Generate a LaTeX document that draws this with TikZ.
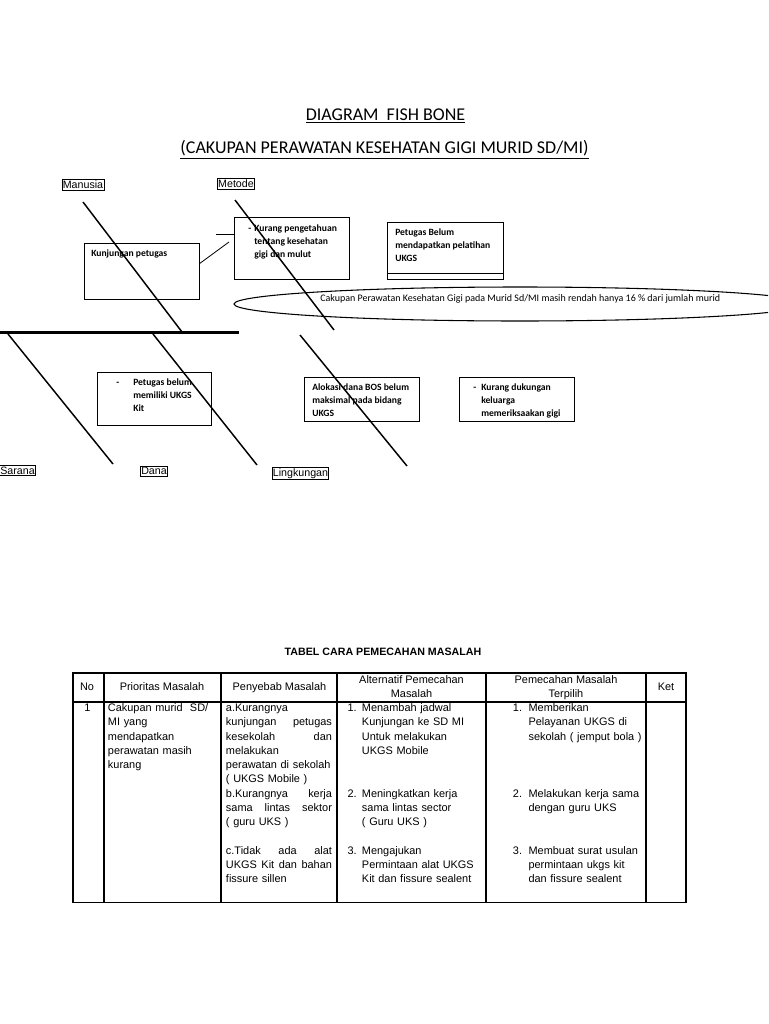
\documentclass[tikz,border=0pt]{standalone}
\usepackage{fontspec}
\setmainfont{Liberation Sans}
\newfontfamily\calfont{Carlito}
\newcommand\jl[1]{\leavevmode\hbox to 79.5pt{#1}}
\begin{document}
\begin{tikzpicture}[x=0.75pt,y=-0.75pt,
  bone/.style={line width=1.1pt},
  boxr/.style={draw,line width=0.75pt},
  lbl/.style={draw,line width=0.6pt,font=\fontsize{8}{9.6}\selectfont,inner xsep=0.6pt,inner ysep=1pt},
  btxt/.style={font=\calfont\bfseries\fontsize{7.2}{10}\selectfont,anchor=base west,inner sep=0pt,align=left},
  tcell/.style={font=\fontsize{8.2}{10.69}\selectfont,anchor=base west,inner sep=0pt,align=left},
  thead/.style={font=\fontsize{8.2}{10.5}\selectfont,anchor=base,inner sep=0pt,align=center},
  tline/.style={line width=0.9pt}]
\fill[white] (0,0) rectangle (768,1024);
\clip (0,0) rectangle (768,1024);
% titles
\node[font=\calfont\fontsize{13.5}{15}\selectfont,anchor=base,inner sep=0pt] (t1) at (385.5,120.5) {\underline{DIAGRAM\ \ FISH BONE}};
\node[font=\calfont\fontsize{13.5}{15}\selectfont,anchor=base,inner sep=0pt] (t2) at (384.5,153.5) {\underline{(CAKUPAN PERAWATAN KESEHATAN GIGI MURID SD/MI)}};
% labels
\node[lbl] (manusia) at (83,185) {Manusia};
\node[lbl] (metode) at (236,184) {Metode};
\node[lbl] (sarana) at (17.5,470.5) {Sarana};
\node[lbl] (dana) at (154,471) {Dana};
\node[lbl] (lingk) at (300.5,473.5) {Lingkungan};
% bones
\coordinate (m1) at (83,202); \coordinate (m2) at (182,332);
\coordinate (k1) at (235,200); \coordinate (k2) at (334,330);
\coordinate (sp1) at (0,332.5); \coordinate (sp2) at (239,332.5);
\coordinate (s1) at (8,334); \coordinate (s2) at (113,464);
\coordinate (d1) at (153,334); \coordinate (d2) at (257,465);
\coordinate (l1) at (300,335); \coordinate (l2) at (407,466);
\draw[line width=1.6pt] (sp1) -- (sp2);
\draw[bone] (m1) -- (m2);
\draw[bone] (k1) -- (k2);
\draw[bone] (s1) -- (s2);
\draw[bone] (d1) -- (d2);
\draw[bone] (l1) -- (l2);
% ellipse
\draw[line width=0.8pt] (520,304) ellipse [x radius=286, y radius=17];
\node[font=\calfont\fontsize{7.5}{9}\selectfont,anchor=base west,inner sep=0pt] (eff) at (320,301) {Cakupan Perawatan Kesehatan Gigi pada Murid Sd/MI masih rendah hanya 16 \% dari jumlah murid};
% boxes
\draw[boxr] (84,243) rectangle (199,299);
\node[btxt] (kunj) at (91,256) {Kunjungan petugas};
\draw[boxr] (234,217) rectangle (349,279);
\node[btxt] (kb) at (248,231) {-};
\node[btxt] (kurang) at (254,257.7) {Kurang pengetahuan\\tentang kesehatan\\gigi dan mulut};
\coordinate (c1) at (199,264); \coordinate (c2) at (229,242);
\coordinate (c3) at (216,234); \coordinate (c4) at (234,234);
\draw[line width=0.6pt] (c1) -- (c2);
\draw[line width=0.6pt] (c3) -- (c4);
\draw[boxr] (387,222) rectangle (503,279);
\draw[boxr] (387,273) -- (503,273);
\node[btxt] (pelat) at (395,261.7) {Petugas Belum\\mendapatkan pelatihan\\UKGS};
\draw[boxr] (97,372) rectangle (211,425);
\node[btxt] (pbb) at (116,385) {-};
\node[btxt] (petbel) at (133,411.7) {Petugas belum\\memiliki UKGS\\Kit};
\draw[boxr] (304,377) rectangle (419,421);
\node[btxt] (alok) at (312,416.7) {Alokasi dana BOS belum\\maksimal pada bidang\\UKGS};
\draw[boxr] (459,377) rectangle (574,421);
\node[btxt] (dkb) at (473,390) {-};
\node[btxt] (dukung) at (481,416.7) {Kurang dukungan\\keluarga\\memeriksaakan gigi};
% table
\node[font=\bfseries\fontsize{8}{9.6}\selectfont,anchor=base,inner sep=0pt] (ttl) at (383,655) {TABEL CARA PEMECAHAN MASALAH};
\draw[tline] (73,673) rectangle (686,902.5);
\draw[tline] (73,702) -- (686,702);
\draw[tline] (104,673) -- (104,902.5);
\draw[line width=1.3pt] (221,673) -- (221,902.5);
\draw[line width=1.3pt] (337,673) -- (337,902.5);
\draw[tline] (486,673) -- (486,902.5);
\draw[tline] (646,673) -- (646,902.5);
\node[thead] (hno) at (87,690.5) {No};
\node[thead] (hpri) at (162,690.5) {Prioritas Masalah};
\node[thead] (hpen) at (279.5,690.5) {Penyebab Masalah};
\node[thead] (halt) at (411.5,697) {Alternatif Pemecahan\\Masalah};
\node[thead] (hpem) at (566,697) {Pemecahan Masalah\\Terpilih};
\node[thead] (hket) at (666,690.5) {Ket};
\node[tcell] (no1) at (84,711.5) {1};
\node[tcell,text width=78pt] (pri) at (107.7,711.5) {Cakupan murid\ \ SD/\\MI yang\\mendapatkan\\perawatan masih\\kurang};
\node[tcell,text width=79.5pt] (pen) at (225.7,711.5) {a.Kurangnya\\
\jl{kunjungan\hfill petugas}\\
\jl{kesekolah\hfill dan}\\
melakukan\\
perawatan di sekolah\\
( UKGS Mobile )\\
\jl{b.Kurangnya\hfill kerja}\\
\jl{sama\hfill lintas\hfill sektor}\\
( guru UKS )\\
\mbox{}\\
\jl{c.Tidak\hfill ada\hfill alat}\\
\jl{UKGS\hfill Kit\hfill dan\hfill bahan}\\
fissure sillen};
\node[tcell] (a1n) at (347.3,711.5) {1.};
\node[tcell,text width=95pt] (a1) at (361.7,711.5) {Menambah jadwal\\Kunjungan ke SD MI\\Untuk melakukan\\UKGS Mobile};
\node[tcell] (a2n) at (347.3,797) {2.};
\node[tcell,text width=95pt] (a2) at (361.7,797) {Meningkatkan kerja\\sama lintas sector\\( Guru UKS )};
\node[tcell] (a3n) at (347.3,854) {3.};
\node[tcell,text width=95pt] (a3) at (361.7,854) {Mengajukan\\Permintaan alat UKGS\\Kit dan fissure sealent};
\node[tcell] (p1n) at (512.7,711.5) {1.};
\node[tcell,text width=95pt] (p1) at (528.3,711.5) {Memberikan\\Pelayanan UKGS di\\sekolah ( jemput bola )};
\node[tcell] (p2n) at (512.7,797) {2.};
\node[tcell,text width=95pt] (p2) at (528.3,797) {Melakukan kerja sama\\dengan guru UKS};
\node[tcell] (p3n) at (512.7,854) {3.};
\node[tcell,text width=95pt] (p3) at (528.3,854) {Membuat surat usulan\\permintaan ukgs kit\\dan fissure sealent};
\end{tikzpicture}
\end{document}
